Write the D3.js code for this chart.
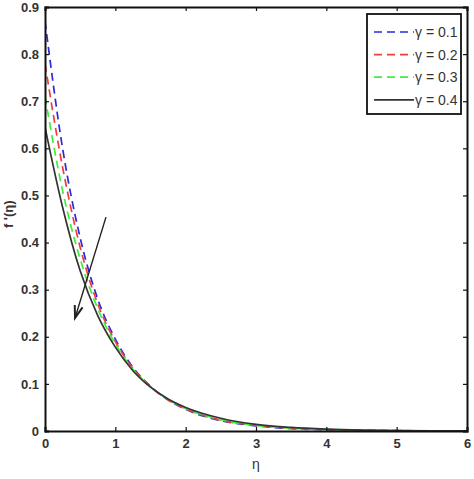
<!DOCTYPE html>
<html>
<head>
<meta charset="utf-8">
<script src="https://cdn.jsdelivr.net/npm/d3@7"></script>
<style>
    body { margin: 0; background: #fff; }
    svg text { font-family: "Liberation Sans", Arial, sans-serif; fill: #222; }
</style>
</head>
<body>
<svg id="chart"></svg>
<script>
var width = 474;
var height = 479;
var margin = { top: 7, right: 7, bottom: 48, left: 45 };

// eta grid and f'(eta) readings for each gamma
var eta = [0, 0.25, 0.5, 0.75, 1, 1.25, 1.5, 1.75, 2, 2.5, 3, 3.5, 4, 4.5, 5, 5.5, 6];
var gamma1 = [0.87, 0.60, 0.41, 0.28, 0.195, 0.135, 0.095, 0.066, 0.046, 0.022, 0.011, 0.005, 0.0025, 0.0012, 0.0006, 0.0003, 0.0001];
var gamma2 = [0.78, 0.56, 0.39, 0.27, 0.19, 0.133, 0.094, 0.066, 0.047, 0.023, 0.012, 0.006, 0.003, 0.0015, 0.0008, 0.0004, 0.0002];
var gamma3 = [0.71, 0.51, 0.365, 0.26, 0.185, 0.131, 0.094, 0.067, 0.048, 0.024, 0.012, 0.006, 0.003, 0.0016, 0.0008, 0.0004, 0.0002];
var gamma4 = [0.645, 0.475, 0.34, 0.245, 0.178, 0.128, 0.093, 0.068, 0.05, 0.027, 0.014, 0.0075, 0.004, 0.002, 0.001, 0.0005, 0.0003];

var seriesNames = ["\u03b3 = 0.1", "\u03b3 = 0.2", "\u03b3 = 0.3", "\u03b3 = 0.4"];
var seriesColors = ["#2b2bd8", "#f23c3c", "#3cf03c", "#333333"];
var seriesDash = ["8,5", "8,5", "8,5", null];

var xTicks = [0, 1, 2, 3, 4, 5, 6];
var yTicks = [0, 0.1, 0.2, 0.3, 0.4, 0.5, 0.6, 0.7, 0.8, 0.9];

// arrow showing the gamma trend: [eta, f'] from tail to head
var arrowFrom = [0.867, 0.454];
var arrowTo = [0.427, 0.24];

var svg = d3.select("#chart")
    .attr("width", width)
    .attr("height", height);

var x = d3.scaleLinear().domain([0, 6]).range([margin.left, width - margin.right]);
var y = d3.scaleLinear().domain([0, 0.9]).range([height - margin.bottom, margin.top]);

var series = [gamma1, gamma2, gamma3, gamma4].map(function (vals, i) {
    return {
        name: seriesNames[i],
        color: seriesColors[i],
        dash: seriesDash[i],
        points: vals.map(function (v, j) { return [eta[j], v]; })
    };
});

svg.append("defs").append("clipPath")
    .attr("id", "plot-clip")
    .append("rect")
    .attr("x", margin.left).attr("y", margin.top)
    .attr("width", width - margin.left - margin.right)
    .attr("height", height - margin.top - margin.bottom);

var line = d3.line()
    .x(function (d) { return x(d[0]); })
    .y(function (d) { return y(d[1]); })
    .curve(d3.curveMonotoneX);

svg.append("g")
    .attr("class", "lines")
    .attr("clip-path", "url(#plot-clip)")
    .selectAll("path")
    .data(series).enter().append("path")
    .attr("d", function (d) { return line(d.points); })
    .attr("fill", "none")
    .attr("stroke", function (d) { return d.color; })
    .attr("stroke-width", 1.7)
    .attr("stroke-dasharray", function (d) { return d.dash; });

// arrow
var arrowAngle = Math.atan2(y(arrowTo[1]) - y(arrowFrom[1]), x(arrowTo[0]) - x(arrowFrom[0]));
var headLen = 13;
var headSpread = 0.32;
svg.append("line")
    .attr("x1", x(arrowFrom[0])).attr("y1", y(arrowFrom[1]))
    .attr("x2", x(arrowTo[0])).attr("y2", y(arrowTo[1]))
    .attr("stroke", "#222")
    .attr("stroke-width", 1.4);
svg.append("path")
    .attr("d", function () {
        var tx = x(arrowTo[0]), ty = y(arrowTo[1]);
        var a1 = arrowAngle + Math.PI - headSpread;
        var a2 = arrowAngle + Math.PI + headSpread;
        return "M" + (tx + headLen * Math.cos(a1)) + "," + (ty + headLen * Math.sin(a1)) +
            "L" + tx + "," + ty +
            "L" + (tx + headLen * Math.cos(a2)) + "," + (ty + headLen * Math.sin(a2));
    })
    .attr("fill", "none")
    .attr("stroke", "#222")
    .attr("stroke-width", 2);

// axes with inward ticks on all four sides
var tickLen = 4;
svg.append("g")
    .attr("transform", "translate(0," + y(0) + ")")
    .call(d3.axisBottom(x).tickValues(xTicks).tickSize(-tickLen).tickPadding(8).tickFormat(d3.format("d")))
    .call(styleAxis);
svg.append("g")
    .attr("transform", "translate(0," + y(0.9) + ")")
    .call(d3.axisTop(x).tickValues(xTicks).tickSize(-tickLen).tickFormat(""))
    .call(styleAxis);
svg.append("g")
    .attr("transform", "translate(" + x(0) + ",0)")
    .call(d3.axisLeft(y).tickValues(yTicks).tickSize(-tickLen).tickPadding(6).tickFormat(function (d) { return d === 0 ? "0" : d3.format(".1f")(d); }))
    .call(styleAxis);
svg.append("g")
    .attr("transform", "translate(" + x(6) + ",0)")
    .call(d3.axisRight(y).tickValues(yTicks).tickSize(-tickLen).tickFormat(""))
    .call(styleAxis);

function styleAxis(g) {
    g.select(".domain").attr("stroke", "#111").attr("stroke-width", 2);
    g.selectAll(".tick line").attr("stroke", "#111").attr("stroke-width", 1.2);
    g.selectAll(".tick text")
        .attr("font-size", 13)
        .attr("font-weight", "bold")
        .style("fill", "#333");
}

// axis labels
svg.append("text")
    .attr("x", x(3))
    .attr("y", 469)
    .attr("text-anchor", "middle")
    .attr("font-size", 14)
    .style("fill", "#333")
    .text("\u03b7");
svg.append("text")
    .attr("transform", "translate(13," + y(0.46) + ") rotate(-90)")
    .attr("text-anchor", "middle")
    .attr("font-size", 13)
    .attr("font-weight", "bold")
    .style("fill", "#333")
    .text("f '(\u03b7)");

// legend
var legend = svg.append("g").attr("class", "legend");
legend.append("rect")
    .attr("x", 367).attr("y", 14)
    .attr("width", 94).attr("height", 100)
    .attr("fill", "#fff")
    .attr("stroke", "#111")
    .attr("stroke-width", 1.8);
var items = legend.selectAll("g.item")
    .data(series).enter().append("g")
    .attr("class", "item")
    .attr("transform", function (d, i) { return "translate(0," + (32 + i * 22.6) + ")"; });
items.append("line")
    .attr("x1", 374).attr("x2", 414)
    .attr("stroke", function (d) { return d.color; })
    .attr("stroke-width", 1.7)
    .attr("stroke-dasharray", function (d) { return d.dash; });
items.append("text")
    .attr("x", 415)
    .attr("dy", "0.35em")
    .attr("font-size", 14)
    .style("fill", "#333")
    .text(function (d) { return d.name; });
</script>
</body>
</html>
